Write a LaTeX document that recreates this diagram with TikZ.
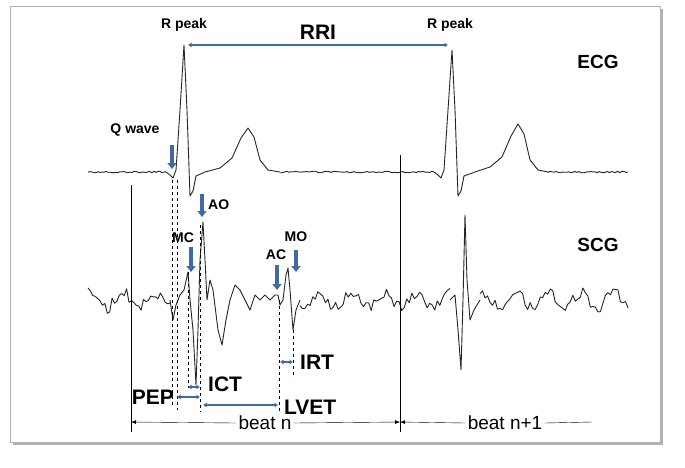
\documentclass[tikz,border=0pt]{standalone}
\usepackage{fontspec}
\setmainfont{Liberation Sans}
\usetikzlibrary{shadows,arrows.meta}
\definecolor{bl}{RGB}{65,105,165}
\begin{document}
\begin{tikzpicture}[x=1pt,y=-1pt,
 sig/.style={line width=0.9pt,black!85,line join=round},
 dsh/.style={dashed,line width=0.9pt},
 ev/.style={bl,line width=3.5pt,-{Triangle[width=9pt,length=6pt]}},
 iv/.style={bl,line width=2.2pt,{Latex[length=3.5pt,width=5pt]}-{Latex[length=3.5pt,width=5pt]}},
 lb/.style={font=\bfseries\fontsize{14}{15}\selectfont,inner sep=1pt},
 big/.style={font=\bfseries\fontsize{21}{22}\selectfont,inner sep=1pt}]
\useasboundingbox (0,0) rectangle (685,467);
\fill[white] (0,0) rectangle (685,467);
\node[draw=black!30,fill=white,drop shadow={shadow xshift=3pt,shadow yshift=-3pt,opacity=.6},minimum width=650pt,minimum height=436pt,anchor=north west,inner sep=0] (frame) at (10,6) {};
% ECG
\pgfmathsetseed{7}
\draw[sig] plot[domain=88:166,samples=40] (\x,{172+0.8*rand});
\draw[sig] (166,172)--(170,175)--(173,178)--(176,170)--(180,110)--(184,45)--(187,110)--(190,196)--(193,191)--(196,176)--(205,172)--(220,168)--(232,158)--(241,138)--(248,128)--(254,137)--(260,160)--(268,170)--(280,172);
\draw[sig] plot[domain=280:434,samples=70] (\x,{172+0.8*rand});
\draw[sig] (434,172)--(438,175)--(441,178)--(444,170)--(448,110)--(452,50)--(455,110)--(458,196)--(461,191)--(464,176)--(475,172)--(490,167)--(502,157)--(511,136)--(518,124)--(524,134)--(530,160)--(538,170)--(548,172);
\draw[sig] plot[domain=548:628,samples=40] (\x,{172+0.8*rand});
% SCG
\draw[sig] plot[domain=88:170,samples=35] (\x,{300+8*sin(\x*11)+6*rand});
\draw[sig] (170,300)--(173,320)--(176,305)--(180,295)--(184,290)--(188,272)--(190,300)--(193,330)--(196,385)--(198,330)--(200,260)--(203,222)--(205,260)--(207,300)--(210,280)--(213,290)--(218,330)--(222,345)--(226,320)--(230,300)--(235,285)--(240,290)--(245,300)--(250,310)--(255,295)--(260,300)--(265,295)--(270,300)--(275,295)--(278,295)--(280,305)--(283,300)--(286,275)--(288,268)--(290,290)--(293,330)--(296,310)--(300,300);
\draw[sig] plot[domain=300:450,samples=60] (\x,{300+8*sin(\x*11)+6*rand});
\draw[sig] (450,300)--(455,295)--(458,330)--(461,370)--(463,300)--(465,215)--(467,280)--(470,320)--(474,310)--(480,300);
\draw[sig] plot[domain=480:628,samples=60] (\x,{300+8*sin(\x*11)+6*rand});
% beat lines
\coordinate (v1t) at (131,185); \coordinate (v1b) at (131,432);
\coordinate (v2t) at (400,155); \coordinate (v2b) at (400,432);
\coordinate (e3) at (592,422);
\draw[line width=0.8pt] (v1t)--(v1b) (v2t)--(v2b);
\node[font=\fontsize{19}{20}\selectfont,fill=white,inner sep=2pt] (bn) at (265,423) {beat n};
\node[font=\fontsize{19}{20}\selectfont,fill=white,inner sep=2pt] (bn1) at (505,423) {beat n+1};
\draw[-{Latex[length=5pt]}] (bn.west)--(131,422);
\draw[-{Latex[length=5pt]}] (bn.east)--(400,422);
\draw[-{Latex[length=5pt]}] (bn1.west)--(400,422);
\draw (bn1.east)--(e3);
% dashed
\draw[dsh] (172,180)--(172,405);
\draw[dsh] (177,180)--(177,410);
\draw[dsh] (188,272)--(188,388);
\draw[dsh] (200,225)--(200,412);
\draw[dsh] (279,300)--(279,412);
\draw[dsh] (293,330)--(293,378);
% intervals
\coordinate (p1) at (177,397); \coordinate (p2) at (200,397);
\coordinate (c1) at (188,387); \coordinate (c2) at (200,387);
\coordinate (l1) at (203,405); \coordinate (l2) at (278,405);
\coordinate (r1) at (280,362); \coordinate (r2) at (293,362);
\draw[iv] (p1)--(p2); \draw[iv] (c1)--(c2); \draw[iv] (l1)--(l2); \draw[iv] (r1)--(r2);
\node[big,anchor=east] (pep) at (175,397) {PEP};
\node[big,anchor=west] (ict) at (207,384) {ICT};
\node[big,anchor=west] (lvet) at (283,407) {LVET};
\node[big,anchor=west] (irt) at (299,362) {IRT};
% RRI
\coordinate (ra) at (188,45); \coordinate (rb) at (448,45);
\draw[iv] (ra)--(rb);
\node[big] (rri) at (318,32) {RRI};
\node[lb] (rp1) at (184,25) {R peak};
\node[lb] (rp2) at (450,25) {R peak};
\node[big,font=\fontsize{19}{20}\selectfont\bfseries] (ecg) at (598,62) {ECG};
\node[big,font=\fontsize{19}{20}\selectfont\bfseries] (scg) at (598,245) {SCG};
% event arrows
\node[lb] (qw) at (135,130) {Q wave};
\coordinate (qa) at (172,145); \coordinate (qb) at (172,169);
\draw[ev] (qa)--(qb);
\coordinate (aoa) at (202,194); \coordinate (aob) at (202,217);
\draw[ev] (aoa)--(aob); \node[lb,anchor=west] (ao) at (207,205) {AO};
\coordinate (mca) at (191,247); \coordinate (mcb) at (191,272);
\draw[ev] (mca)--(mcb); \node[lb] (mc) at (183,238) {MC};
\coordinate (aca) at (277,265); \coordinate (acb) at (277,290);
\draw[ev] (aca)--(acb); \node[lb] (ac) at (276,255) {AC};
\coordinate (moa) at (296,250); \coordinate (mob) at (296,272);
\draw[ev] (moa)--(mob); \node[lb] (mo) at (296,237) {MO};
\end{tikzpicture}
\end{document}
